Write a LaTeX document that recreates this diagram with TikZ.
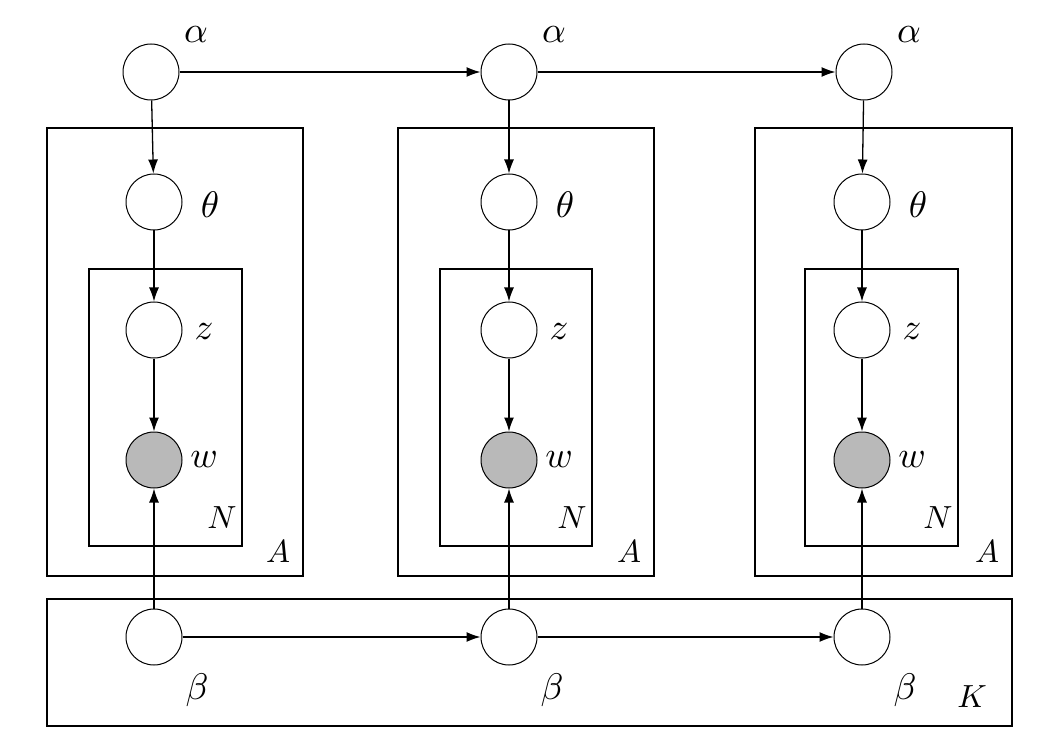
\documentclass[tikz,border=0pt]{standalone}
\usetikzlibrary{arrows.meta}
\begin{document}
\begin{tikzpicture}[x=1pt,y=-1pt,
  v/.style={circle,draw,line width=1pt,minimum size=56pt,inner sep=0pt},
  obs/.style={v,fill=gray!55},
  lab/.style={scale=3.7},
  slab/.style={scale=3.2},
  plate/.style={draw,line width=1.5pt},
  e/.style={-{Latex[length=14pt,width=10pt]},line width=1.3pt}]
\useasboundingbox (0,0) rectangle (1053,746);
\foreach \i/\x/\xa/\pl/\pr/\il/\ir in {1/154/151/47/303/89/242, 2/509/509/398/654/440/592, 3/862/864/755/1012/805/958}{
  \node[v] (a\i) at (\xa,72) {};
  \node[v] (t\i) at (\x,202) {};
  \node[v] (z\i) at (\x,330) {};
  \node[obs] (w\i) at (\x,460) {};
  \node[v] (b\i) at (\x,637) {};
  \node[lab] (la\i) at (\xa+45,35) {$\alpha$};
  \node[lab] (lt\i) at (\x+56,205) {$\theta$};
  \node[lab] (lz\i) at (\x+50,332) {$z$};
  \node[lab] (lw\i) at (\x+50,460) {$w$};
  \node[lab] (lb\i) at (\x+43,690) {$\beta$};
  \node[plate,minimum width=\pr-\pl,minimum height=448,inner sep=0pt] (P\i) at ({(\pl+\pr)/2},352) {};
  \node[plate,minimum width=\ir-\il,minimum height=277,inner sep=0pt] (Q\i) at ({(\il+\ir)/2},407.5) {};
  \node[slab] (lA\i) at (\pr-25,552) {$A$};
  \node[slab] (lN\i) at (\ir-20,518) {$N$};
  \draw[e] (a\i) -- (t\i);
  \draw[e] (t\i) -- (z\i);
  \draw[e] (z\i) -- (w\i);
  \draw[e] (b\i) -- (w\i);
}
\node[plate,minimum width=965,minimum height=127,inner sep=0pt] (K) at (529.5,662.5) {};
\node[slab] (lK) at (972,697) {$K$};
\draw[e] (a1) -- (a2);
\draw[e] (a2) -- (a3);
\draw[e] (b1) -- (b2);
\draw[e] (b2) -- (b3);
\end{tikzpicture}
\end{document}
